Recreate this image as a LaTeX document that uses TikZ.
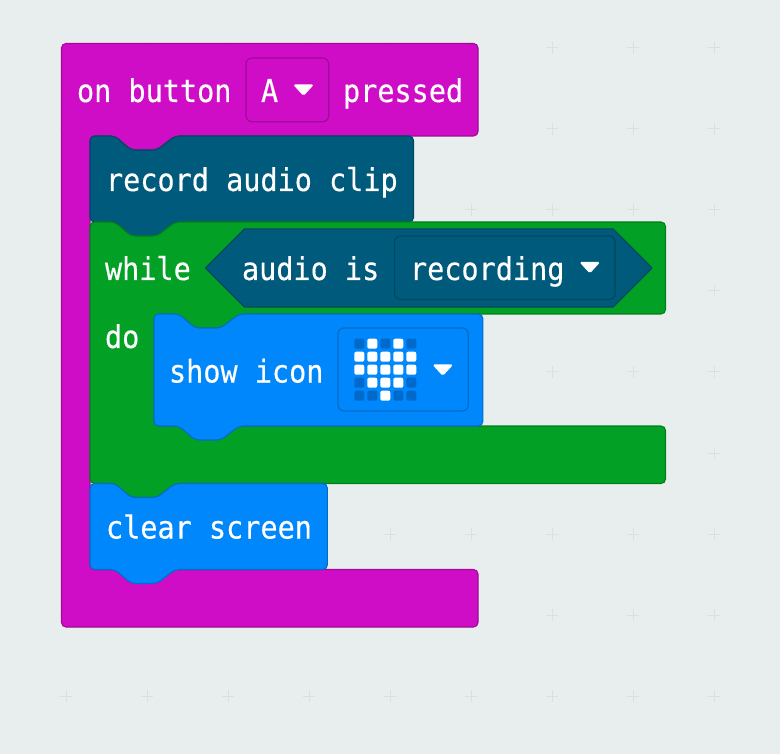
\documentclass[tikz,border=0pt]{standalone}
\usepackage{fontspec}
\newfontfamily\blockfont[FakeStretch=0.905,FakeBold=0.35]{DejaVu Sans Mono}
\definecolor{bgc}{HTML}{E8EEEE}
\definecolor{plusc}{HTML}{DADFE0}
\definecolor{magf}{HTML}{CF0DC6}
\definecolor{mags}{HTML}{A00A98}
\definecolor{tealf}{HTML}{005A7C}
\definecolor{teals}{HTML}{004760}
\definecolor{greenf}{HTML}{02A024}
\definecolor{greens}{HTML}{017F1C}
\definecolor{bluef}{HTML}{0087FB}
\definecolor{blues}{HTML}{006CC9}
\definecolor{ledoff}{HTML}{0069CC}
\newcommand{\topnotch}[2]{-- (#1+25,#2) -- (#1+41,#2+14) -- (#1+67,#2+14) -- (#1+85,#2)}
\newcommand{\botbump}[2]{-- (#1+85,#2) -- (#1+67,#2+14) -- (#1+41,#2+14) -- (#1+25,#2)}
\newcommand{\ddarrow}[2]{\fill[white,rounded corners=1.8pt] (#1-10.5,#2) -- (#1+10.5,#2) -- (#1,#2+11.5) -- cycle;}
\tikzset{
  blockpath/.style={line width=1.1pt,rounded corners=4.5pt,line join=round},
  magblock/.style={blockpath,fill=magf,draw=mags},
  tealblock/.style={blockpath,fill=tealf,draw=teals},
  greenblock/.style={blockpath,fill=greenf,draw=greens},
  blueblock/.style={blockpath,fill=bluef,draw=blues},
  fieldbox/.style={line width=1.2pt,rounded corners=6pt},
  label/.style={anchor=base west,inner sep=0pt,outer sep=0pt,text=white,font=\blockfont\fontsize{31.5}{36}\selectfont},
  plusmark/.style={draw=plusc,line width=1pt},
}
\begin{document}
\begin{tikzpicture}[x=1pt,y=-1pt]
\useasboundingbox (0,0) rectangle (780,754);
\fill[bgc] (0,0) rectangle (780,754);
% grid
\foreach \gx in {66,147,...,714}{
  \foreach \gy in {48,129,...,696}{
    \draw[plusmark] (\gx-6,\gy) -- (\gx+6,\gy) (\gx,\gy-6) -- (\gx,\gy+6);
  }
}
% on button
\draw[magblock] (61.5,43.5) -- (478,43.5) -- (478,136) \botbump{90}{136} -- (90,136) -- (90,569.5) -- (478,569.5) -- (478,627) -- (61.5,627) -- cycle;
\draw[fieldbox,draw=mags] (246,58) rectangle (328.7,121.7);
% record
\draw[tealblock] (90,136) \topnotch{90}{136} -- (413.5,136) -- (413.5,222) \botbump{90}{222} -- (90,222) -- cycle;
% while
\draw[greenblock] (90,222) \topnotch{90}{222} -- (665.5,222) -- (665.5,314) \botbump{154}{314} -- (154,314) -- (154,426) -- (665.5,426) -- (665.5,483.5) \botbump{90}{483.5} -- (90,483.5) -- cycle;
\draw[line width=1.2pt,line join=round,fill=tealf,draw=teals] (205.5,268) -- (244.5,229) -- (613,229) -- (652,268) -- (613,307) -- (244.5,307) -- cycle;
\draw[fieldbox,draw=teals] (394.6,236) rectangle (615,299.5);
% show icon
\draw[blueblock] (154,314) \topnotch{154}{314} -- (482.8,314) -- (482.8,426) \botbump{154}{426} -- (154,426) -- cycle;
\draw[fieldbox,draw=blues] (338,328) rectangle (468.3,411);
\foreach \row/\pattern [count=\ry from 0] in {1/{0,1,0,1,0},2/{1,1,1,1,1},3/{1,1,1,1,1},4/{0,1,1,1,0},5/{0,0,1,0,0}}{
  \foreach \led [count=\cx from 0] in \pattern {
    \ifnum\led=1\def\ledc{white}\else\def\ledc{ledoff}\fi
    \fill[\ledc,rounded corners=2pt] (359.3+13*\cx-5,343.7+13*\ry-5) rectangle (359.3+13*\cx+5,343.7+13*\ry+5);
  }
}
% clear screen
\draw[blueblock] (90,483.5) \topnotch{90}{483.5} -- (327.3,483.5) -- (327.3,569.5) \botbump{90}{569.5} -- (90,569.5) -- cycle;
% dropdown arrows
\ddarrow{303.5}{84.5}
\ddarrow{589.8}{262}
\ddarrow{442.8}{364.5}
% text
\node[label] (onbutton) at (77,102) {on button};
\node[label] (keyA) at (261,102) {A};
\node[label] (pressed) at (343,102) {pressed};
\node[label] (recordclip) at (106,191) {record audio clip};
\node[label] (whilekw) at (105,280) {while};
\node[label] (audiois) at (242,280) {audio is};
\node[label] (recording) at (410,280) {recording};
\node[label] (dokw) at (105,348) {do};
\node[label] (showicon) at (169,382.5) {show icon};
\node[label] (clearscreen) at (106,538.5) {clear screen};
\end{tikzpicture}
\end{document}
